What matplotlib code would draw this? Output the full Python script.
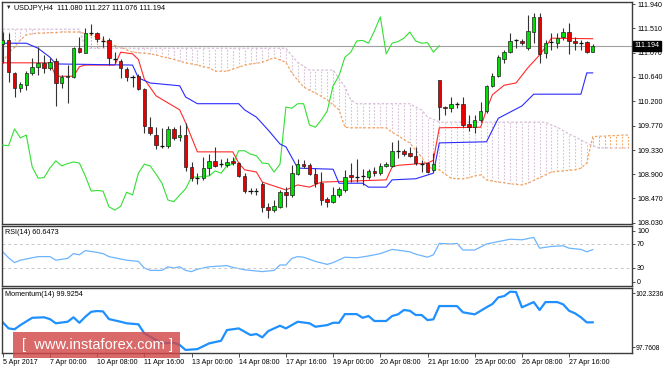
import numpy as np
import matplotlib.pyplot as plt
from matplotlib.patches import Rectangle
from matplotlib.transforms import blended_transform_factory

plt.rcParams['font.family'] = ['Liberation Sans', 'DejaVu Sans']

# USDJPY H4 candles, bars 0..100
opens = [111.23, 111.30, 110.71, 110.44, 110.49, 110.71, 110.82, 110.89, 110.80, 110.92,
         110.53, 110.64, 110.64, 111.15, 111.07, 111.42, 111.42, 111.29, 111.30, 110.97,
         110.92, 110.78, 110.64, 110.66, 110.42, 109.74, 109.60, 109.42, 109.41, 109.71,
         109.57, 109.60, 109.03, 108.83, 108.83, 109.01, 109.14, 109.08, 109.07, 109.14,
         109.10, 108.87, 108.60, 108.61, 108.73, 108.32, 108.26, 108.32, 108.58, 108.53,
         108.90, 109.08, 109.07, 108.90, 108.74, 108.46, 108.41, 108.53, 108.62, 108.89,
         108.87, 108.86, 108.85, 108.96, 108.92, 109.05, 109.05, 109.31, 109.32, 109.28,
         109.23, 109.10, 109.10, 108.98, 110.58, 110.10, 110.08, 110.15, 110.16, 109.80,
         109.74, 109.87, 110.03, 110.48, 110.66, 110.96, 111.08, 111.28, 111.28, 111.15,
         111.44, 111.71, 111.07, 111.26, 111.24, 111.35, 111.44, 111.28, 111.26, 111.26,
         111.080]
highs = [111.44, 111.42, 110.73, 110.55, 110.74, 110.98, 111.17, 111.03, 110.98, 110.98,
         110.67, 110.85, 111.17, 111.35, 111.51, 111.58, 111.44, 111.37, 111.33, 111.08,
         110.96, 110.82, 110.67, 110.69, 110.44, 109.92, 109.74, 109.73, 109.76, 109.74,
         109.78, 109.82, 109.12, 108.92, 109.21, 109.26, 109.39, 109.17, 109.19, 109.21,
         109.12, 108.92, 108.66, 108.66, 108.76, 108.39, 108.44, 108.62, 108.67, 109.07,
         109.17, 109.16, 109.10, 109.01, 108.94, 108.49, 108.67, 108.67, 108.98, 109.10,
         109.17, 108.99, 108.99, 109.03, 109.10, 109.12, 109.48, 109.51, 109.35, 109.39,
         109.39, 109.16, 109.12, 109.28, 110.59, 110.12, 110.28, 110.19, 110.28, 109.96,
         109.96, 110.19, 110.49, 110.71, 111.03, 111.12, 111.42, 111.32, 111.32, 111.74,
         111.78, 111.78, 111.30, 111.42, 111.42, 111.51, 111.60, 111.35, 111.30, 111.28,
         111.227]
lows = [110.89, 110.55, 110.28, 110.37, 110.41, 110.67, 110.67, 110.71, 110.76, 110.12,
        110.44, 110.17, 110.62, 111.07, 111.07, 111.39, 111.26, 111.17, 110.85, 110.89,
        110.62, 110.57, 110.46, 110.41, 109.64, 109.60, 109.35, 109.37, 109.37, 109.51,
        109.49, 108.96, 108.78, 108.73, 108.80, 108.89, 109.03, 109.03, 109.03, 109.07,
        108.85, 108.57, 108.55, 108.53, 108.23, 108.12, 108.23, 108.30, 108.32, 108.49,
        108.89, 109.01, 108.89, 108.67, 108.35, 108.32, 108.39, 108.49, 108.58, 108.76,
        108.76, 108.71, 108.82, 108.87, 108.89, 109.03, 109.03, 109.19, 109.23, 109.21,
        109.07, 108.94, 108.92, 108.94, 109.87, 109.96, 110.01, 110.08, 109.74, 109.67,
        109.64, 109.83, 109.99, 110.46, 110.64, 110.89, 111.07, 111.15, 111.21, 111.12,
        111.25, 110.89, 110.98, 111.12, 111.15, 111.30, 111.05, 111.12, 111.12, 111.07,
        111.076]
closes = [111.30, 110.73, 110.44, 110.51, 110.71, 110.82, 110.89, 110.80, 110.90, 110.53,
          110.64, 110.66, 111.15, 111.08, 111.42, 111.43, 111.32, 111.28, 110.98, 110.96,
          110.80, 110.64, 110.63, 110.42, 109.76, 109.64, 109.42, 109.41, 109.71, 109.55,
          109.60, 109.03, 108.83, 108.84, 109.01, 109.14, 109.05, 109.09, 109.12, 109.10,
          108.87, 108.60, 108.61, 108.60, 108.32, 108.26, 108.33, 108.58, 108.53, 108.92,
          109.08, 109.05, 108.90, 108.74, 108.44, 108.41, 108.53, 108.64, 108.85, 108.85,
          108.86, 108.87, 108.96, 108.92, 109.05, 109.08, 109.32, 109.32, 109.26, 109.23,
          109.10, 109.09, 108.94, 109.08, 110.10, 110.08, 110.16, 110.16, 109.78, 109.74,
          109.87, 110.03, 110.48, 110.66, 110.99, 111.08, 111.28, 111.29, 111.24, 111.46,
          111.71, 111.05, 111.24, 111.27, 111.33, 111.44, 111.28, 111.24, 111.25, 111.08,
          111.194]

# Ichimoku lines (bar index, price)
tenkan_x = [0, 8, 9, 12, 13, 14, 19, 20, 22, 23, 24, 26, 30, 31, 33, 39, 40, 41, 43, 44,
            48, 50, 52, 54, 65, 66, 67, 72, 73, 74, 81, 82, 83, 85, 87, 89, 91, 92, 93, 100]
tenkan_y = [110.89, 110.89, 110.65, 110.65, 110.82, 110.85, 110.85, 111.08, 111.05, 110.95,
            110.60, 110.30, 110.05, 109.82, 109.30, 109.30, 109.10, 108.98, 108.94, 108.76,
            108.62, 108.71, 108.67, 108.76, 108.80, 109.03, 109.06, 109.10, 109.15, 109.73,
            109.74, 110.05, 110.32, 110.49, 110.53, 110.80, 111.03, 111.17, 111.33, 111.32]
kijun_x = [0, 4, 6, 8, 9, 22, 23, 25, 30, 31, 33, 40, 41, 43, 45, 47, 48, 50, 56, 57,
           61, 62, 65, 66, 70, 73, 74, 82, 84, 86, 88, 90, 98, 99, 100]
kijun_y = [111.24, 111.24, 111.15, 110.99, 110.87, 110.85, 110.62, 110.53, 110.48, 110.28,
           110.16, 110.16, 110.05, 109.92, 109.69, 109.44, 109.39, 109.01, 108.99, 108.74,
           108.74, 108.67, 108.67, 108.80, 108.82, 108.92, 109.46, 109.48, 109.90, 110.01,
           110.12, 110.33, 110.33, 110.71, 110.71]
# senkou spans, bars 0..106 (shifted 26 bars ahead)
span_a = [110.90, 111.07, 111.17, 111.30, 111.39, 111.41, 111.42, 111.42, 111.43, 111.43,
          111.44, 111.44, 111.44, 111.44, 111.41, 111.38, 111.35, 111.30, 111.24, 111.20,
          111.17, 111.12, 111.08, 111.07, 111.06, 111.05, 111.03, 111.00, 110.98, 110.95,
          110.92, 110.89, 110.87, 110.85, 110.82, 110.80, 110.74, 110.74, 110.74, 110.78,
          110.81, 110.85, 110.87, 110.88, 110.90, 110.94, 110.98, 110.94, 110.90, 110.71,
          110.58, 110.46, 110.40, 110.35, 110.29, 110.23, 110.14, 110.05, 109.74, 109.73,
          109.73, 109.73, 109.73, 109.73, 109.73, 109.73, 109.65, 109.59, 109.52, 109.46,
          109.33, 109.21, 109.03, 109.00, 108.98, 108.90, 108.83, 108.82, 108.82, 108.84,
          108.87, 108.89, 108.80, 108.78, 108.76, 108.75, 108.73, 108.72, 108.71, 108.74,
          108.79, 108.84, 108.89, 108.94, 108.95, 108.96, 108.97, 108.98, 109.01, 109.10,
          109.57, 109.58, 109.58, 109.59, 109.59, 109.60, 109.60]
span_b = ([111.49] * 14 + [111.15] * 35 +
          [111.02, 110.90, 110.83, 110.76, 110.76, 110.76, 110.76, 110.76, 110.61, 110.46, 110.23] +
          [110.16] * 10 + [110.10, 110.05, 109.92, 109.88] + [109.83] * 19 +
          [109.78, 109.74, 109.68, 109.62, 109.57, 109.51, 109.46, 109.41] + [109.37] * 6)

# RSI(14) and Momentum(14) (bar index, value)
rsi_x = [0, 1, 2, 3, 5, 6, 8, 9, 11, 12, 13, 14, 16, 17, 18, 19, 21, 23, 24, 25, 27, 28,
         29, 30, 31, 32, 33, 35, 38, 39, 41, 44, 46, 47, 48, 49, 50, 51, 53, 55, 56, 58,
         60, 62, 64, 66, 69, 70, 72, 73, 74, 76, 77, 78, 80, 82, 85, 86, 88, 90, 91, 93,
         95, 96, 98, 99, 100]
rsi_y = [57, 47, 39, 43, 47, 49, 49, 43, 46, 54, 52, 59, 56, 54, 49, 47, 43, 41, 30, 26,
         26, 32, 30, 32, 26, 24, 28, 32, 34, 31, 27, 24, 26, 35, 35, 46, 49, 48, 41, 36,
         39, 48, 47, 50, 54, 61, 57, 53, 48, 52, 71, 70, 71, 60, 60, 70, 76, 78, 77, 81,
         63, 66, 67, 63, 61, 57, 60.6473]
mom_x = [0, 1, 2, 3, 5, 7, 8, 9, 11, 12, 13, 14, 15, 16, 17, 18, 20, 21, 23, 24, 26, 27,
         29, 30, 31, 33, 35, 37, 38, 40, 42, 43, 44, 45, 47, 48, 50, 52, 53, 55, 56, 57,
         58, 60, 61, 62, 63, 65, 66, 67, 68, 69, 70, 71, 72, 73, 74, 77, 78, 80, 82, 83,
         84, 85, 86, 87, 88, 90, 91, 92, 94, 95, 96, 97, 98, 99, 100]
mom_y = [99.93, 99.45, 99.38, 99.71, 100.28, 100.32, 100.18, 99.85, 99.97, 100.32, 99.89,
         100.36, 100.75, 100.81, 100.78, 100.18, 99.97, 99.85, 99.77, 99.06, 98.54, 98.28,
         98.33, 98.15, 97.7608, 97.83, 98.28, 98.48, 99.32, 99.45, 98.93, 99.01, 98.75, 99.24,
         99.66, 99.45, 99.97, 99.85, 99.58, 99.71, 99.89, 99.89, 100.57, 100.57, 100.28,
         100.42, 100.03, 100.03, 100.42, 100.55, 100.89, 100.83, 100.50, 100.50, 100.10,
         100.16, 101.20, 101.20, 100.71, 100.55, 101.10, 101.36, 101.88, 101.98, 102.3236,
         102.30, 101.10, 101.51, 100.89, 101.51, 101.51, 101.33, 100.83, 100.63, 100.32,
         99.92, 99.9254]

price_ticks = [111.940, 111.510, 111.070, 110.640, 110.200, 109.770, 109.330, 108.900, 108.470, 108.030]
date_labels = ['5 Apr 2017', '7 Apr 00:00', '10 Apr 08:00', '11 Apr 16:00', '13 Apr 00:00',
               '14 Apr 08:00', '17 Apr 16:00', '19 Apr 00:00', '20 Apr 08:00', '21 Apr 16:00',
               '25 Apr 00:00', '26 Apr 08:00', '27 Apr 16:00']
date_bars = [0, 8, 16, 24, 32, 40, 48, 56, 64, 72, 80, 88, 96]
bid = 111.194

W, H = 664, 369


def frame(top, bottom, left=2, right=632):
    return [left / W, 1 - bottom / H, (right - left) / W, (bottom - top) / H]


fig = plt.figure(figsize=(W / 100, H / 100), dpi=100)
ax = fig.add_axes(frame(2, 224))
ax_rsi = fig.add_axes(frame(226, 286), sharex=ax)
ax_mom = fig.add_axes(frame(288, 353), sharex=ax)

o = np.array(opens)
c = np.array(closes)
bars = np.arange(len(c))

# cloud
sa = np.array(span_a)
sb = np.array(span_b)
cx = np.arange(len(sa))
up = sa > sb
lo = np.minimum(sa, sb)
hi = np.maximum(sa, sb)
ax.vlines(cx[~up], lo[~up], hi[~up], colors='#d8bfd8', linestyles=(0, (1.5, 1.5)), lw=0.8, zorder=1)
ax.vlines(cx[up], lo[up], hi[up], colors='#f4a460', linestyles=(0, (1.5, 1.5)), lw=0.8, zorder=1)
ax.plot(cx, sa, color='#f4a460', ls=(0, (2, 1.5)), lw=0.9, zorder=2)
ax.plot(cx, sb, color='#d8bfd8', ls=(0, (2, 1.5)), lw=0.9, zorder=2)

# chikou, tenkan, kijun
ax.plot(bars[:-26], c[26:], color='#33e033', lw=0.8, zorder=3)
ax.plot(tenkan_x, tenkan_y, color='#ff2a2a', lw=0.8, zorder=3)
ax.plot(kijun_x, kijun_y, color='#2a2aff', lw=0.8, zorder=3)

ax.axhline(bid, color='#a0a0a0', lw=0.8, zorder=2)

# candles
ax.vlines(bars, lows, highs, color='#333333', lw=0.8, zorder=4)
for i in bars:
    h = abs(c[i] - o[i])
    if h < 0.015:
        ax.hlines(c[i], i - 0.35, i + 0.35, color='#111111', lw=0.9, zorder=5)
    else:
        col = '#00e000' if c[i] > o[i] else '#e80000'
        ax.add_patch(Rectangle((i - 0.3, min(o[i], c[i])), 0.6, h, fc=col, ec='#222222', lw=0.5, zorder=5))

ax.set_xlim(-0.12, 106.66)
ax.set_ylim(108.012, 111.976)

# RSI
ax_rsi.plot(rsi_x, rsi_y, color='#6cb4ff', lw=0.9)
for lev in (70, 30):
    ax_rsi.axhline(lev, color='#c8c8c8', lw=0.7, ls=(0, (3, 3)))
ax_rsi.set_ylim(0, 100)

# Momentum
ax_mom.plot(mom_x, mom_y, color='#1e90ff', lw=1.6)
ax_mom.set_ylim(97.524, 102.613)

for a in (ax, ax_rsi, ax_mom):
    a.set_facecolor('white')
    for s in a.spines.values():
        s.set_color('#3c3c3c')
        s.set_linewidth(1.0)
    a.yaxis.tick_right()
    a.tick_params(axis='y', direction='out', length=2.5, width=0.6, pad=1.2, labelsize=5.1, color='#333333')
    a.tick_params(axis='x', bottom=False, labelbottom=False)

ax.set_yticks(price_ticks)
ax.set_yticklabels([f'{p:.3f}' for p in price_ticks])
ax_rsi.set_yticks([91.7, 70, 30, 6.7])
ax_rsi.set_yticklabels(['100', '70', '30', '0'])
ax_mom.set_yticks([102.22, 97.99])
ax_mom.set_yticklabels(['102.3236', '97.7608'])
ax_mom.tick_params(axis='y', length=2, pad=0.6, labelsize=4.9)

ax_mom.set_xticks(date_bars)
ax_mom.set_xticklabels(date_labels, ha='left')
ax_mom.tick_params(axis='x', bottom=True, labelbottom=True, direction='out', length=3,
                   width=0.6, pad=1.5, labelsize=5.1, color='#333333')

# bid price tag
tr = blended_transform_factory(ax.transAxes, ax.transData)
ax.text(1.004, bid, '111.194', transform=tr, ha='left', va='center', color='white', fontsize=5.1,
        bbox=dict(boxstyle='square,pad=0.18', fc='black', ec='black'), clip_on=False, zorder=10)

fig.text(6 / W, 1 - 7.5 / H, '\u25bc', fontsize=4, va='center', color='#222222')
fig.text(14 / W, 1 - 7.5 / H, 'USDJPY,H4  111.080 111.227 111.076 111.194', fontsize=5.2, va='center')
fig.text(5 / W, 1 - 233 / H, 'RSI(14) 60.6473', fontsize=5.2, va='center')
fig.text(5 / W, 1 - 295 / H, 'Momentum(14) 99.9254', fontsize=5.2, va='center')

# watermark
fig.patches.append(Rectangle((13 / W, 1 - 358 / H), 167 / W, 26 / H, transform=fig.transFigure,
                             fc='#d24848', alpha=0.82, ec='none', zorder=20))
fig.text(97 / W, 1 - 345.5 / H, '[  www.instaforex.com ]', color='white', fontsize=10.5,
         ha='center', va='center', zorder=21)

fig.savefig('out.png', dpi=100)
